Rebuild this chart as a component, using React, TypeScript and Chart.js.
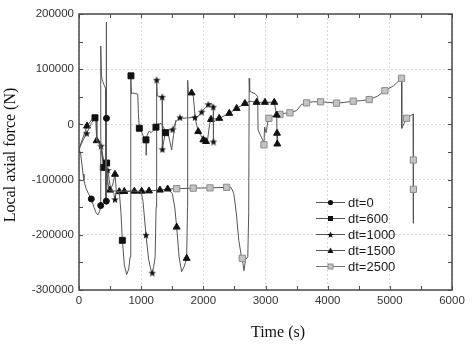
import React, { useEffect, useRef } from 'react';
import { Chart, registerables } from 'chart.js';
Chart.register(...registerables);

const xTicks = [0, 1000, 2000, 3000, 4000, 5000, 6000];
const yTicks = [-300000, -200000, -100000, 0, 100000, 200000];
const xTitle = 'Time (s)';
const yTitle = 'Local axial force (N)';
const seriesLabels = ['dt=0', 'dt=600', 'dt=1000', 'dt=1500', 'dt=2500'];

// dt=0 (circles)
const dt0T = [0, 25, 50, 65, 80, 110, 150, 198, 240, 275, 305, 330, 349, 350, 362, 380, 410, 428, 432, 439, 440, 442];
const dt0F = [-45000, -52000, -75000, -90000, -102000, -115000, -125000, -135000, -150000, -160000, -164000, -158000, -147000, 142000, 88000, 78000, 70000, 65000, -139000, -139000, 185000, 11000];
const dt0M = [0, 0, 0, 0, 0, 0, 0, 1, 0, 0, 0, 0, 1, 0, 0, 0, 0, 0, 0, 1, 0, 1];

// dt=600 (squares)
const dt600T = [257, 275, 284, 354, 391, 420, 445, 470, 500, 600, 650, 675, 697, 730, 767, 800, 822, 830, 836, 845, 860, 900, 945, 955, 970, 1000, 1030, 1060, 1077, 1080, 1095, 1130, 1160, 1200, 1238, 1260, 1320, 1360, 1394, 1440, 1490, 1520, 1560];
const dt600F = [12000, 12000, -29500, -38000, -78000, -80000, -70000, -118000, -120000, -121000, -124000, -160000, -210000, -255000, -272000, -262000, -240000, -150000, 88000, 55000, 57000, 56000, 55000, 20000, -7000, -12000, -20000, -30000, -28000, -56000, -20000, -12000, -15000, -10000, -5000, 0, 2000, -5000, -15000, -20000, -46000, -20000, 8000];
const dt600M = [1, 0, 0, 0, 1, 0, 1, 0, 0, 0, 0, 0, 1, 0, 0, 0, 0, 0, 1, 0, 0, 0, 0, 0, 1, 0, 0, 0, 1, 0, 0, 0, 0, 0, 1, 0, 0, 0, 1, 0, 0, 0, 0];

// dt=1000 (stars)
const dt1000T = [0, 60, 124, 200, 257, 275, 284, 354, 400, 461, 500, 560, 579, 600, 700, 800, 900, 1000, 1030, 1077, 1120, 1160, 1179, 1200, 1225, 1240, 1249, 1260, 1300, 1339, 1342, 1380, 1440, 1506, 1560, 1624, 1667, 1760, 1865, 1920, 1973, 2030, 2080, 2130, 2160, 2163];
const dt1000F = [-45000, -30000, -16000, 2000, 12000, 12000, -29500, -38600, -78000, -82600, -110000, -125000, -135700, -122000, -121000, -121000, -121000, -122000, -140000, -200000, -245000, -265000, -268600, -258000, -240000, -150000, 81000, 52000, 50000, 50000, -45000, -20000, -10000, -9000, 5000, 12800, 11000, 12000, 13000, 15000, 23000, 30000, 36400, 38000, 32000, -31000];
const dt1000M = [0, 0, 1, 0, 0, 0, 0, 1, 0, 1, 0, 0, 1, 0, 0, 0, 0, 0, 0, 1, 0, 0, 1, 0, 0, 0, 1, 0, 0, 1, 1, 0, 0, 1, 0, 1, 0, 0, 1, 0, 1, 0, 1, 0, 1, 1];

// dt=1500 (triangles)
const dt1500T = [0, 60, 129, 200, 257, 275, 284, 330, 354, 420, 470, 498, 540, 579, 600, 648, 729, 890, 1008, 1126, 1302, 1426, 1500, 1540, 1571, 1610, 1651, 1690, 1732, 1745, 1748, 1760, 1790, 1812, 1840, 1870, 1918, 1960, 2000, 2042, 2060, 2100, 2123, 2256, 2417, 2536, 2669, 2750, 2857, 2991, 3141, 3179, 3185, 3190];
const dt1500F = [-45000, -25000, -3000, 8000, 12000, 12000, -29500, -35000, -38000, -80000, -110000, -119000, -110000, -90400, -121000, -121900, -121500, -121000, -121000, -120500, -119000, -117000, -125000, -150000, -186000, -240000, -266800, -258000, -242600, -150000, 80000, 55000, 55000, 57000, 50000, 10000, -13000, -20000, -28000, -31000, -35000, 0, 9000, 11000, 20000, 29000, 38000, 42000, 40000, 40000, 40000, 17000, -16000, -35500];
const dt1500M = [0, 0, 1, 0, 0, 0, 1, 0, 0, 0, 0, 1, 0, 1, 0, 1, 1, 1, 1, 1, 1, 1, 0, 0, 1, 0, 0, 0, 1, 0, 0, 0, 0, 1, 0, 0, 1, 0, 1, 1, 0, 0, 1, 1, 1, 1, 1, 0, 1, 1, 1, 1, 1, 1];

// dt=2500 (grey squares)
const dt2500T = [1426, 1571, 1838, 2107, 2375, 2450, 2490, 2530, 2570, 2610, 2626, 2653, 2680, 2715, 2730, 2738, 2745, 2780, 2830, 2875, 2880, 2920, 2960, 2975, 2985, 3010, 3044, 3055, 3100, 3150, 3232, 3300, 3393, 3500, 3580, 3661, 3760, 3886, 4000, 4143, 4280, 4411, 4540, 4668, 4800, 4921, 5060, 5189, 5192, 5269, 5376, 5378, 5379, 5380];
const dt2500F = [-117000, -116500, -115500, -115000, -114000, -115000, -125000, -160000, -210000, -238000, -242600, -265000, -245000, -240000, -160000, 83500, 60000, 58000, 56000, 50000, -10000, -20000, -30000, -37000, -5000, -15000, 9000, 11000, 15000, 14000, 18000, 20000, 21000, 25000, 36000, 39000, 41000, 41000, 40000, 38500, 40000, 42000, 43000, 45000, 51000, 61000, 70000, 83500, -7000, 11000, 19000, -64500, -117600, -179000];
const dt2500M = [0, 1, 1, 1, 1, 0, 0, 0, 0, 0, 1, 0, 0, 0, 0, 0, 0, 0, 0, 0, 0, 0, 0, 1, 0, 0, 0, 1, 0, 0, 1, 0, 1, 0, 0, 1, 0, 1, 0, 1, 0, 1, 0, 1, 0, 1, 0, 1, 0, 1, 0, 1, 1, 0];

function makeStar(size: number, color: string) {
  const c = document.createElement('canvas');
  c.width = size;
  c.height = size;
  const g = c.getContext('2d')!;
  const cx = size / 2, cy = size / 2 + 0.5, R = size / 2, r = R * 0.42;
  g.beginPath();
  for (let i = 0; i < 10; i++) {
    const ang = -Math.PI / 2 + (i * Math.PI) / 5;
    const rad = i % 2 === 0 ? R : r;
    g.lineTo(cx + rad * Math.cos(ang), cy + rad * Math.sin(ang));
  }
  g.closePath();
  g.fillStyle = color;
  g.fill();
  return c;
}

const LINE = '#555555';
const DARK = '#111111';
const GREY_FILL = '#c4c4c4';
const GREY_EDGE = '#8a8a8a';

export default function App() {
  const ref = useRef<HTMLCanvasElement | null>(null);

  useEffect(() => {
    document.body.style.margin = '0';
    const star = makeStar(8, DARK);
    const specs = [
      { T: dt0T, F: dt0F, M: dt0M, style: 'circle' as any, r: 3, fill: DARK, edge: DARK },
      { T: dt600T, F: dt600F, M: dt600M, style: 'rect' as any, r: 4.2, fill: DARK, edge: DARK },
      { T: dt1000T, F: dt1000F, M: dt1000M, style: star as any, r: 3.5, fill: DARK, edge: DARK },
      { T: dt1500T, F: dt1500F, M: dt1500M, style: 'triangle' as any, r: 4, fill: DARK, edge: DARK },
      { T: dt2500T, F: dt2500F, M: dt2500M, style: 'rect' as any, r: 4.4, fill: GREY_FILL, edge: GREY_EDGE },
    ];

    const datasets = specs.map((s, k) => ({
      label: seriesLabels[k],
      data: s.T.map((t, i) => ({ x: t, y: s.F[i] })),
      borderColor: LINE,
      borderWidth: 1,
      tension: 0,
      fill: false,
      pointStyle: s.style,
      pointRadius: s.M.map((m) => (m ? s.r : 0)),
      pointBackgroundColor: s.fill,
      pointBorderColor: s.edge,
      pointBorderWidth: 1,
      pointHoverRadius: 0,
    }));

    const framePlugin = {
      id: 'frame',
      afterDatasetsDraw(chart: any) {
        const { ctx, chartArea: a, scales } = chart;
        ctx.save();
        ctx.strokeStyle = '#4a4a4a';
        ctx.lineWidth = 1;
        ctx.beginPath();
        const xs = scales.x, ys = scales.y;
        for (let i = 0; i < xTicks.length * 2 - 1; i++) {
          const v = xTicks[0] + (i * (xTicks[1] - xTicks[0])) / 2;
          const x = Math.round(xs.getPixelForValue(v)) + 0.5;
          ctx.moveTo(x, a.bottom);
          ctx.lineTo(x, a.bottom - 4);
          ctx.moveTo(x, a.top);
          ctx.lineTo(x, a.top + 4);
        }
        for (let i = 0; i < yTicks.length * 2 - 1; i++) {
          const v = yTicks[0] + (i * (yTicks[1] - yTicks[0])) / 2;
          const y = Math.round(ys.getPixelForValue(v)) + 0.5;
          ctx.moveTo(a.left, y);
          ctx.lineTo(a.left + 4, y);
          ctx.moveTo(a.right, y);
          ctx.lineTo(a.right - 4, y);
        }
        ctx.stroke();
        ctx.lineWidth = 1.5;
        ctx.strokeRect(a.left, a.top, a.right - a.left, a.bottom - a.top);

        // axis titles
        ctx.fillStyle = '#111';
        ctx.font = '16px "Liberation Serif", "Times New Roman", serif';
        ctx.textAlign = 'center';
        ctx.textBaseline = 'middle';
        ctx.fillText(xTitle, 278, 333);
        ctx.save();
        ctx.translate(11, 155);
        ctx.rotate(-Math.PI / 2);
        ctx.fillText(yTitle, 0, 0);
        ctx.restore();

        // legend
        const lx0 = 316, lx1 = 345, mx = 330.5, tx = 348;
        ctx.font = '13px "Liberation Sans", Arial, sans-serif';
        ctx.textAlign = 'left';
        const legendStar = makeStar(7, DARK);
        specs.forEach((s, k) => {
          const y = 202 + k * 16;
          ctx.strokeStyle = k === 4 ? '#777' : '#555';
          ctx.lineWidth = 1;
          ctx.beginPath();
          ctx.moveTo(lx0, y + 0.5);
          ctx.lineTo(lx1, y + 0.5);
          ctx.stroke();
          ctx.fillStyle = s.fill;
          ctx.strokeStyle = s.edge;
          if (k === 0) {
            ctx.beginPath();
            ctx.arc(mx, y + 0.5, 2.6, 0, Math.PI * 2);
            ctx.fill();
          } else if (k === 1) {
            ctx.fillRect(mx - 2.5, y - 2, 5, 5);
          } else if (k === 2) {
            ctx.drawImage(legendStar, mx - 3.5, y - 3);
          } else if (k === 3) {
            ctx.beginPath();
            ctx.moveTo(mx, y - 2.5);
            ctx.lineTo(mx + 3, y + 3);
            ctx.lineTo(mx - 3, y + 3);
            ctx.closePath();
            ctx.fill();
          } else {
            ctx.fillRect(mx - 2.5, y - 2, 5, 5);
            ctx.strokeRect(mx - 2.5, y - 2, 5, 5);
          }
          ctx.fillStyle = '#1a1a1a';
          ctx.fillText(seriesLabels[k], tx, y + 1);
        });
        ctx.restore();
      },
    };

    const tickFont = { family: '"Liberation Sans", Arial, sans-serif', size: 11.5 };

    const chart = new Chart(ref.current!, {
      type: 'line',
      data: { datasets: datasets as any },
      options: {
        animation: false,
        responsive: false,
        devicePixelRatio: 1,
        layout: { padding: { left: 0, top: 14, right: 22, bottom: 0 } },
        plugins: { legend: { display: false }, tooltip: { enabled: false } },
        events: [],
        scales: {
          x: {
            type: 'linear',
            min: xTicks[0],
            max: xTicks[xTicks.length - 1],
            afterBuildTicks: (s: any) => {
              s.ticks = xTicks.map((v) => ({ value: v }));
            },
            afterFit: (s: any) => {
              s.height = 61;
            },
            ticks: { color: '#333', font: tickFont, padding: 4, maxRotation: 0, autoSkip: false, callback: (v: any) => String(v) },
            grid: { color: '#dadada', drawTicks: false, lineWidth: 1 },
            border: { display: false, dash: [2, 2] },
          },
          y: {
            type: 'linear',
            min: yTicks[0],
            max: yTicks[yTicks.length - 1],
            afterBuildTicks: (s: any) => {
              s.ticks = yTicks.map((v) => ({ value: v }));
            },
            afterFit: (s: any) => {
              s.width = 79;
            },
            ticks: { color: '#333', font: tickFont, padding: 5, autoSkip: false, callback: (v: any) => String(v) },
            grid: { color: '#dadada', drawTicks: false, lineWidth: 1 },
            border: { display: false, dash: [2, 2] },
          },
        },
      } as any,
      plugins: [framePlugin],
    });
    return () => chart.destroy();
  }, []);

  return <canvas ref={ref} width={474} height={351} style={{ display: 'block' }} />;
}
